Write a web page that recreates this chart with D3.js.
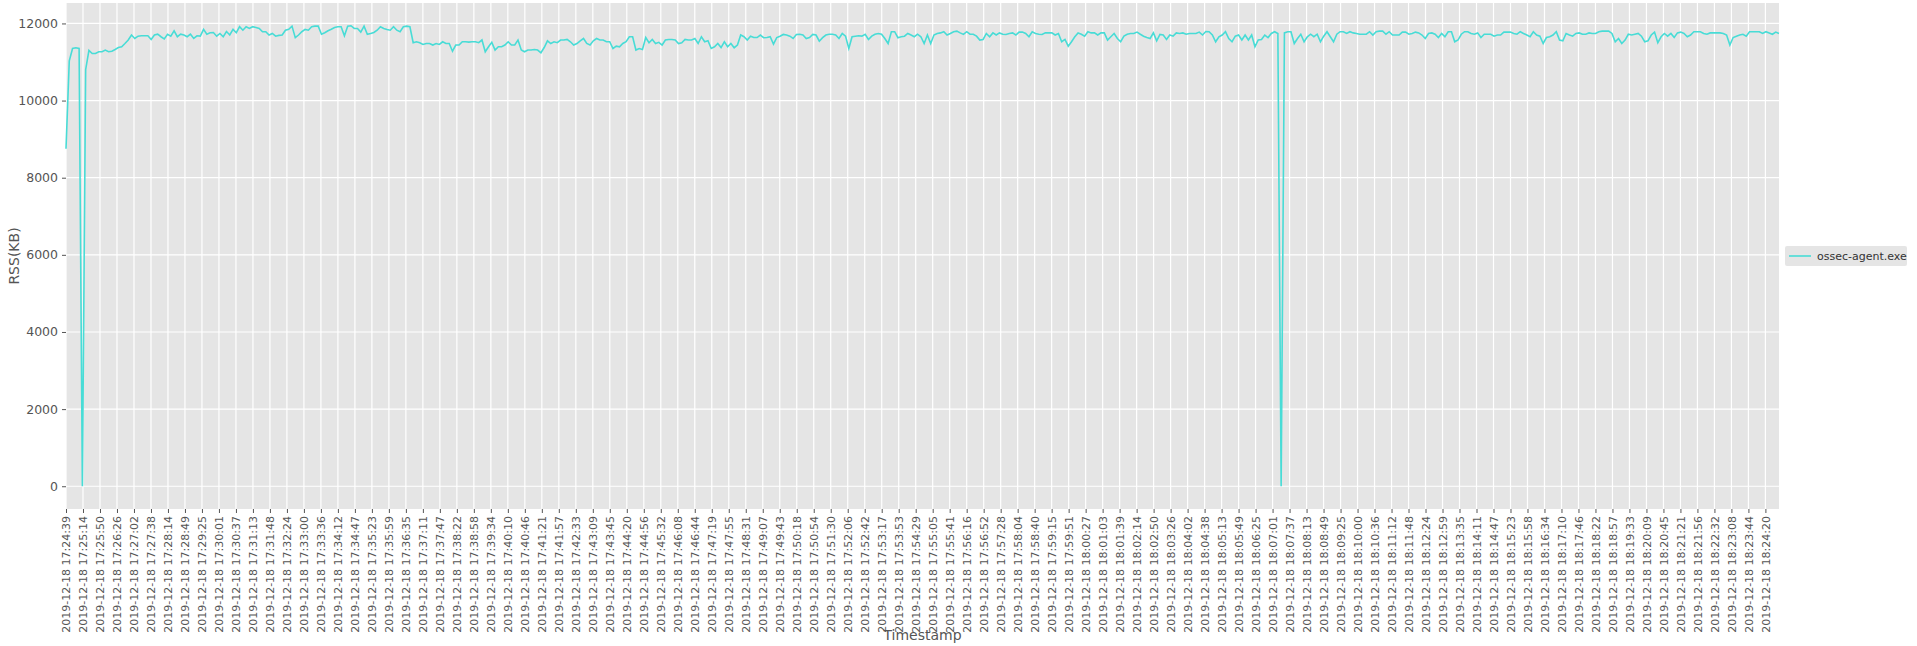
<!DOCTYPE html>
<html><head><meta charset="utf-8">
<script src="https://cdn.jsdelivr.net/npm/d3@7"></script>
<style>body{margin:0;background:#fff}text{font-family:"DejaVu Sans",sans-serif}</style>
</head><body><svg id="c" width="1917" height="646"></svg>
<script>
const seriesName = "ossec-agent.exe";
const tickLabels = ["2019-12-18 17:24:39","2019-12-18 17:25:14","2019-12-18 17:25:50","2019-12-18 17:26:26","2019-12-18 17:27:02","2019-12-18 17:27:38","2019-12-18 17:28:14","2019-12-18 17:28:49","2019-12-18 17:29:25","2019-12-18 17:30:01","2019-12-18 17:30:37","2019-12-18 17:31:13","2019-12-18 17:31:48","2019-12-18 17:32:24","2019-12-18 17:33:00","2019-12-18 17:33:36","2019-12-18 17:34:12","2019-12-18 17:34:47","2019-12-18 17:35:23","2019-12-18 17:35:59","2019-12-18 17:36:35","2019-12-18 17:37:11","2019-12-18 17:37:47","2019-12-18 17:38:22","2019-12-18 17:38:58","2019-12-18 17:39:34","2019-12-18 17:40:10","2019-12-18 17:40:46","2019-12-18 17:41:21","2019-12-18 17:41:57","2019-12-18 17:42:33","2019-12-18 17:43:09","2019-12-18 17:43:45","2019-12-18 17:44:20","2019-12-18 17:44:56","2019-12-18 17:45:32","2019-12-18 17:46:08","2019-12-18 17:46:44","2019-12-18 17:47:19","2019-12-18 17:47:55","2019-12-18 17:48:31","2019-12-18 17:49:07","2019-12-18 17:49:43","2019-12-18 17:50:18","2019-12-18 17:50:54","2019-12-18 17:51:30","2019-12-18 17:52:06","2019-12-18 17:52:42","2019-12-18 17:53:17","2019-12-18 17:53:53","2019-12-18 17:54:29","2019-12-18 17:55:05","2019-12-18 17:55:41","2019-12-18 17:56:16","2019-12-18 17:56:52","2019-12-18 17:57:28","2019-12-18 17:58:04","2019-12-18 17:58:40","2019-12-18 17:59:15","2019-12-18 17:59:51","2019-12-18 18:00:27","2019-12-18 18:01:03","2019-12-18 18:01:39","2019-12-18 18:02:14","2019-12-18 18:02:50","2019-12-18 18:03:26","2019-12-18 18:04:02","2019-12-18 18:04:38","2019-12-18 18:05:13","2019-12-18 18:05:49","2019-12-18 18:06:25","2019-12-18 18:07:01","2019-12-18 18:07:37","2019-12-18 18:08:13","2019-12-18 18:08:49","2019-12-18 18:09:25","2019-12-18 18:10:00","2019-12-18 18:10:36","2019-12-18 18:11:12","2019-12-18 18:11:48","2019-12-18 18:12:24","2019-12-18 18:12:59","2019-12-18 18:13:35","2019-12-18 18:14:11","2019-12-18 18:14:47","2019-12-18 18:15:23","2019-12-18 18:15:58","2019-12-18 18:16:34","2019-12-18 18:17:10","2019-12-18 18:17:46","2019-12-18 18:18:22","2019-12-18 18:18:57","2019-12-18 18:19:33","2019-12-18 18:20:09","2019-12-18 18:20:45","2019-12-18 18:21:21","2019-12-18 18:21:56","2019-12-18 18:22:32","2019-12-18 18:23:08","2019-12-18 18:23:44","2019-12-18 18:24:20"];
const yTicks = [0,2000,4000,6000,8000,10000,12000];
const rssA = [8750,11030,11350,11370,11350,0,10800,11300,11220,11220,11265,11265,11310,11265,11280,11325,11375,11395,11480,11570,11700,11610,11670,11680,11680,11680,11585,11700,11720,11655,11600,11720,11670,11810,11655,11720,11700,11655,11720,11610,11680,11670,11845,11720,11760,11765,11670,11740,11655,11790,11700,11845,11760,11915,11825,11915,11870,11915,11895,11870,11785,11785,11700,11740,11670,11690,11700,11825,11850,11930,11630,11700,11785,11845,11825,11915,11930,11930,11720,11760,11810,11850,11895,11915,11915,11680,11930,11940,11870,11870,11775,11930,11720,11740,11765,11825,11915,11870,11845,11825,11915,11825,11785,11915,11930,11915,11500,11525,11500,11455,11480,11480,11440,11480,11455,11525,11480,11480,11280,11440,11440,11525,11525,11515,11525];
const rssB = [11525,11500,11570,11265,11395,11510,11310,11395,11395,11440,11525,11440,11440,11570,11310,11265,11310,11310,11325,11310,11240,11375,11550,11480,11525,11500,11570,11570,11585,11525,11440,11480,11550,11610,11480,11440,11550,11610,11570,11570,11525,11525,11350,11410,11395,11480,11525,11655,11655,11310,11350,11325,11635,11500,11585,11480,11510,11440,11570,11585,11585,11570,11480,11500,11585,11570,11570,11610,11480,11655,11525,11550,11350,11395,11480,11375,11525,11395,11480,11370,11440,11700,11655,11570,11670,11635,11635,11700,11630,11635,11655,11465,11635,11670,11715,11700,11670,11610,11715,11720,11700,11610,11635,11715,11700,11540,11630,11700,11720,11720,11700,11610,11740,11670,11350,11655,11670,11680,11670,11720,11585,11670,11720,11740,11720,11610,11480,11785,11785,11630,11655,11670,11740,11700,11655,11720,11655,11480,11700];
const rssC = [11480,11700,11740,11755,11785,11700,11740,11785,11800,11755,11715,11785,11720,11720,11670,11570,11585,11740,11655,11755,11700,11755,11720,11715,11740,11755,11700,11775,11775,11740,11655,11785,11740,11720,11715,11755,11755,11755,11700,11740,11525,11585,11410,11525,11655,11755,11720,11670,11785,11755,11755,11700,11755,11755,11570,11655,11740,11610,11525,11670,11720,11740,11740,11775,11720,11670,11635,11610,11755,11550,11715,11700,11585,11700,11670,11755,11740,11755,11720,11740,11740,11740,11775,11700,11790,11785,11700,11525,11655,11700,11785,11610,11525,11670,11700,11570,11700,11570,11700,11395,11570,11585,11700,11635,11740,11785,11740,0,11755,11785,11785,11480,11610,11720,11525,11655,11720,11655,11720,11525,11670,11785,11655,11525,11720,11785,11785,11740,11785,11755,11740];
const rssD = [11720,11720,11720,11785,11700,11785,11800,11800,11720,11785,11700,11700,11700,11775,11775,11720,11740,11775,11755,11700,11610,11740,11755,11720,11635,11740,11655,11785,11785,11525,11570,11720,11785,11785,11740,11720,11755,11635,11720,11720,11720,11670,11700,11700,11775,11775,11775,11740,11720,11785,11740,11700,11655,11785,11700,11670,11480,11635,11655,11700,11785,11570,11550,11740,11700,11670,11740,11755,11720,11720,11755,11740,11740,11785,11800,11800,11800,11740,11525,11610,11480,11570,11720,11700,11720,11740,11670,11525,11550,11700,11775,11500,11655,11740,11670,11740,11635,11755,11775,11740,11655,11700,11785,11785,11785,11740,11720,11755,11755,11755,11755,11740,11700,11440,11635,11670,11700,11720,11670,11785,11785,11785,11785,11740,11785,11755,11720,11775,11740];
const rss = rssA.concat(rssB, rssC, rssD);

const svg = d3.select("#c");
const L=66,R=1779,T=3,B=509;
const x = d3.scaleLinear().domain([0, rss.length-1]).range([L,R]);
const y = d3.scaleLinear().domain([-590,12530]).range([B,T]);
// label k sits at k/100.8 of the sample span (last label precedes the last sample)
const tickPos = tickLabels.map((d,k)=>k*(rss.length-1)/100.8);

svg.append("rect").attr("x",L).attr("y",T).attr("width",R-L).attr("height",B-T).attr("fill","#e5e5e5");
const g = svg.append("g");
tickPos.forEach(i=>g.append("line").attr("x1",x(i)).attr("x2",x(i)).attr("y1",T).attr("y2",B).attr("stroke","#fff").attr("stroke-width",1.2));
yTicks.forEach(v=>g.append("line").attr("x1",L).attr("x2",R).attr("y1",y(v)).attr("y2",y(v)).attr("stroke","#fff").attr("stroke-width",1.2));

const xa = svg.append("g").attr("transform",`translate(0,${B})`)
  .call(d3.axisBottom(x).tickValues(tickPos).tickSize(4).tickPadding(4).tickFormat((d,i)=>tickLabels[i]));
xa.select(".domain").remove();
xa.selectAll("line").attr("stroke","#555");
xa.selectAll("text").attr("transform","rotate(-90)").attr("text-anchor","end").attr("dy","0.35em")
  .attr("x",-7).attr("y",0).attr("fill","#555").style("font-size","11px");

const ya = svg.append("g").attr("transform",`translate(${L},0)`)
  .call(d3.axisLeft(y).tickValues(yTicks).tickSize(4).tickPadding(4).tickFormat(d3.format("d")));
ya.select(".domain").remove();
ya.selectAll("line").attr("stroke","#555");
ya.selectAll("text").attr("fill","#555").style("font-size","12.5px");

svg.append("path").datum(rss).attr("fill","none").attr("stroke","#48dcd6").attr("stroke-width",1.6)
  .attr("d", d3.line().x((d,i)=>x(i)).y(d=>y(d)));

svg.append("text").attr("transform",`translate(19,${(T+B)/2}) rotate(-90)`).attr("text-anchor","middle")
  .attr("fill","#555").style("font-size","14px").text("RSS(KB)");
svg.append("text").attr("x",(L+R)/2).attr("y",640).attr("text-anchor","middle")
  .attr("fill","#555").style("font-size","14px").text("Timestamp");

const lg = svg.append("g");
lg.append("rect").attr("x",1785).attr("y",246).attr("width",122).attr("height",20).attr("rx",2).attr("fill","#e5e5e5");
lg.append("line").attr("x1",1789).attr("x2",1811).attr("y1",256).attr("y2",256).attr("stroke","#48dcd6").attr("stroke-width",1.6);
lg.append("text").attr("x",1817).attr("y",260).attr("fill","#333").style("font-size","11px").text(seriesName);
</script></body></html>
